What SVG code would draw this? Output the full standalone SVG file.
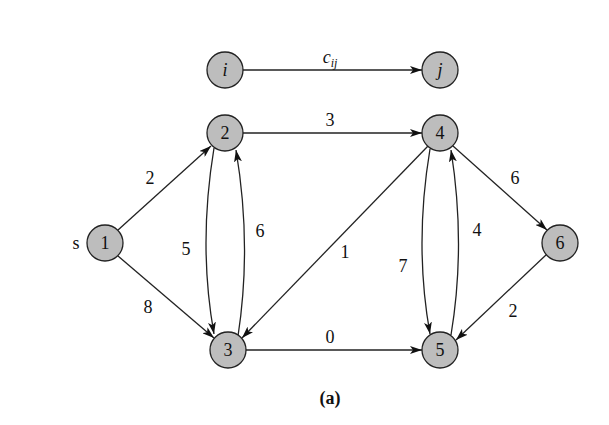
<svg xmlns="http://www.w3.org/2000/svg" width="609" height="425" viewBox="0 0 609 425">
<style>
.n{fill:#bdbdbd;stroke:#222;stroke-width:1.3}
.t{font-family:"Liberation Serif","Times New Roman","DejaVu Serif",serif;font-size:18px;fill:#111;text-anchor:middle}
.e{stroke:#222;stroke-width:1.3;fill:none;marker-end:url(#a)}
</style>
<defs><marker id="a" viewBox="0 0 12 8" refX="12" refY="4" markerWidth="12" markerHeight="8" markerUnits="userSpaceOnUse" orient="auto"><path d="M0,0L12,4L0,8L3,4z" fill="#111"/></marker></defs>
<rect width="609" height="425" fill="#fff"/>
<g id="edges">
<line class="e" x1="243" y1="70" x2="422" y2="70"/>
<line class="e" x1="243" y1="133" x2="422" y2="133"/>
<line class="e" x1="118" y1="230" x2="211" y2="146"/>
<line class="e" x1="118" y1="256" x2="214" y2="338"/>
<path class="e" d="M214,148 Q198,245 214,334"/>
<path class="e" d="M238,336 Q252,245 236,150"/>
<line class="e" x1="428" y1="146" x2="242" y2="338"/>
<line class="e" x1="246" y1="350" x2="422" y2="350"/>
<path class="e" d="M430,149 Q414,245 430,334"/>
<path class="e" d="M451,335 Q466,245 451,150"/>
<line class="e" x1="453" y1="146" x2="547" y2="230"/>
<line class="e" x1="547" y1="254" x2="456" y2="340"/>
</g>
<g id="labels">
<text class="t" x="330" y="63" font-style="italic">c<tspan font-size="12" dy="4">ij</tspan></text>
<text class="t" x="330" y="126">3</text>
<text class="t" x="150" y="184">2</text>
<text class="t" x="148" y="313">8</text>
<text class="t" x="186" y="255">5</text>
<text class="t" x="260" y="237">6</text>
<text class="t" x="345" y="258">1</text>
<text class="t" x="330" y="343">0</text>
<text class="t" x="403" y="272">7</text>
<text class="t" x="477" y="236">4</text>
<text class="t" x="515" y="184">6</text>
<text class="t" x="513" y="317">2</text>
<text class="t" x="76" y="249">s</text>
<text class="t" x="330" y="404" font-weight="bold" font-size="16">(a)</text>
</g>
<g id="ni"><circle class="n" cx="225" cy="70" r="18"/><text class="t" x="225" y="76" font-style="italic">i</text></g>
<g id="nj"><circle class="n" cx="440" cy="70" r="18"/><text class="t" x="440" y="76" font-style="italic">j</text></g>
<g id="n1"><circle class="n" cx="105" cy="243" r="18"/><text class="t" x="105" y="249">1</text></g>
<g id="n2"><circle class="n" cx="225" cy="133" r="18"/><text class="t" x="225" y="139">2</text></g>
<g id="n3"><circle class="n" cx="228" cy="350" r="18"/><text class="t" x="228" y="356">3</text></g>
<g id="n4"><circle class="n" cx="440" cy="133" r="18"/><text class="t" x="440" y="139">4</text></g>
<g id="n5"><circle class="n" cx="440" cy="350" r="18"/><text class="t" x="440" y="356">5</text></g>
<g id="n6"><circle class="n" cx="560" cy="243" r="18"/><text class="t" x="560" y="249">6</text></g>
</svg>
